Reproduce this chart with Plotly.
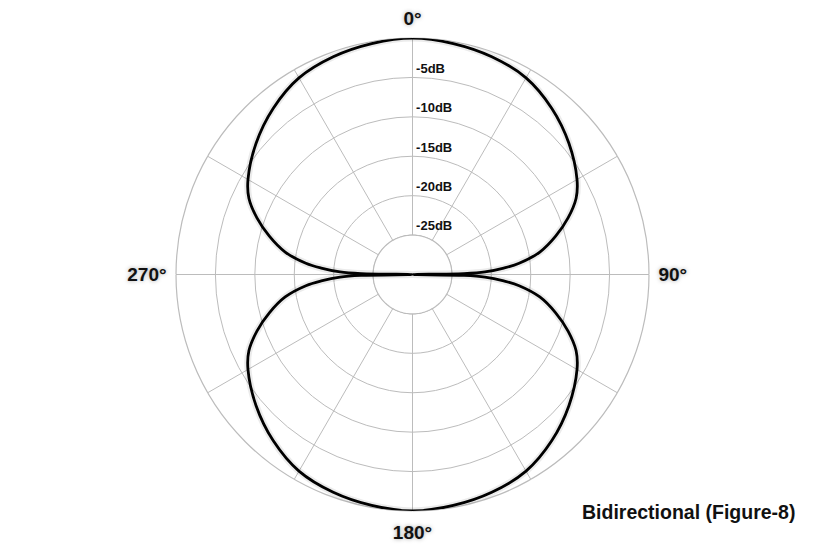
import plotly.graph_objects as go

# response, degrees clockwise from 0 (front)
theta_deg = [0, 10, 20, 30, 40, 50, 60, 65, 70, 75, 80, 84, 86, 88, 89, 90,
             91, 92, 94, 96, 100, 105, 110, 115, 120, 130, 140, 150, 160, 170, 180,
             190, 200, 210, 220, 230, 240, 245, 250, 255, 260, 264, 266, 268, 269, 270,
             271, 272, 274, 276, 280, 285, 290, 295, 300, 310, 320, 330, 340, 350, 360]
level_db = [0.0, -0.25, -0.6, -1.2, -2.5, -4.1, -5.9, -7.1, -9.0, -11.2, -13.6, -16.4, -18.4, -20.8, -23.5, -30.0,
            -23.5, -20.8, -18.4, -16.4, -13.6, -11.2, -9.0, -7.1, -5.9, -4.1, -2.5, -1.2, -0.6, -0.25, 0.0,
            -0.25, -0.6, -1.2, -2.5, -4.1, -5.9, -7.1, -9.0, -11.2, -13.6, -16.4, -18.4, -20.8, -23.5, -30.0,
            -23.5, -20.8, -18.4, -16.4, -13.6, -11.2, -9.0, -7.1, -5.9, -4.1, -2.5, -1.2, -0.6, -0.25, 0.0]

ring_db = [-5, -10, -15, -20, -25]
ring_labels = ["-5dB", "-10dB", "-15dB", "-20dB", "-25dB"]

spoke_deg = list(range(0, 360, 30))
spoke_labels = ["0°", "", "", "90°", "", "", "180°", "", "", "270°", "", ""]

floor_db = -30
grid = "#bcbcbc"
bold = dict(family="Liberation Sans, Arial, sans-serif", weight="bold", color="#111111")

fig = go.Figure()

# blank centre disk so the spokes stop at the -25dB ring
disk_theta = list(range(0, 361, 2))
fig.add_trace(go.Scatterpolar(
    r=[ring_db[-1]] * len(disk_theta), theta=disk_theta,
    mode="lines", fill="toself", fillcolor="white",
    line=dict(color=grid, width=1.2), hoverinfo="skip"))

# soft shadow under the pattern, then the pattern
fig.add_trace(go.Scatterpolar(
    r=level_db, theta=theta_deg, mode="lines",
    line=dict(color="rgba(0,0,0,0.08)", width=7, shape="spline", smoothing=1),
    hoverinfo="skip"))
fig.add_trace(go.Scatterpolar(
    r=level_db, theta=theta_deg, mode="lines",
    line=dict(color="#000000", width=2.8, shape="spline", smoothing=1),
    hoverinfo="skip"))

# ring labels sit just above each ring, a little right of the 0° spoke
fig.add_trace(go.Scatterpolar(
    r=[v + 1.0 for v in ring_db], theta=[0] * len(ring_db),
    mode="text", text=["\u00a0" + s for s in ring_labels], textposition="middle right",
    textfont=dict(size=13, **bold), hoverinfo="skip"))

fig.update_layout(
    width=825, height=550,
    margin=dict(l=0, r=0, t=0, b=0),
    paper_bgcolor="white",
    showlegend=False,
    polar=dict(
        domain=dict(x=[168 / 825, 641 / 825], y=[47 / 550, 520 / 550]),
        bgcolor="white",
        radialaxis=dict(range=[floor_db, 0], tickvals=ring_db, showticklabels=False,
                        ticks="", showline=False, gridcolor=grid, gridwidth=1.2,
                        layer="below traces"),
        angularaxis=dict(rotation=90, direction="clockwise",
                         tickmode="array", tickvals=spoke_deg, ticktext=spoke_labels,
                         ticks="outside", ticklen=5, tickcolor="white",
                         showline=True, linecolor=grid, linewidth=1.2,
                         gridcolor=grid, gridwidth=1.2, layer="below traces",
                         tickfont=dict(size=19, shadow="0px 0px 4px rgba(0,0,0,0.35)", **bold)),
    ),
    annotations=[dict(text="Bidirectional (Figure-8)", xref="paper", yref="paper",
                      x=789 / 825, y=46 / 550, xanchor="right", yanchor="middle",
                      showarrow=False, font=dict(size=19.5, **bold))],
)

fig.write_html("out.html")
